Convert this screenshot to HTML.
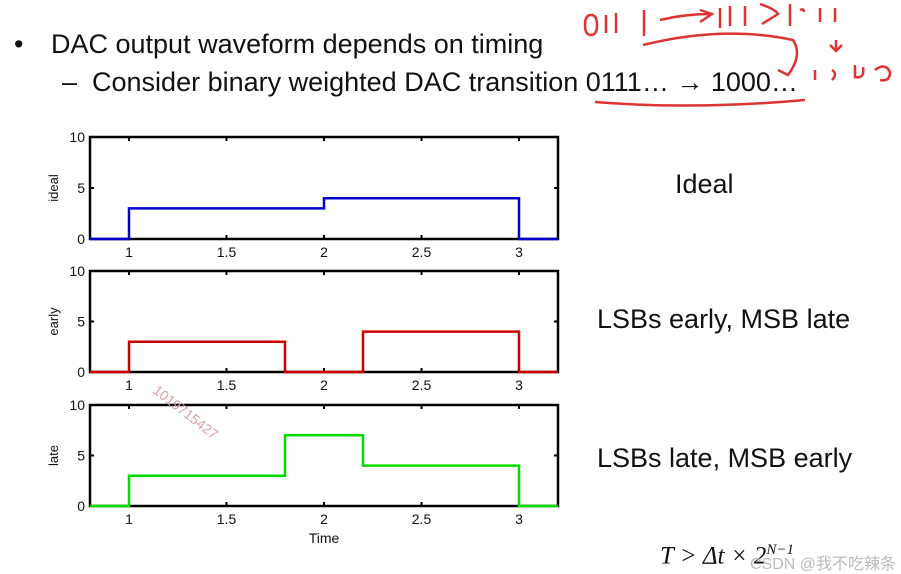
<!DOCTYPE html>
<html><head><meta charset="utf-8"><style>
body{margin:0;width:901px;height:573px;background:#fff;overflow:hidden;font-family:"Liberation Sans",sans-serif;position:relative}
.t{position:absolute;white-space:nowrap;color:#111}
</style></head><body>
<div class="t" style="left:14px;top:29px;font-size:27px">•</div>
<div class="t" style="left:51px;top:29px;font-size:27px">DAC output waveform depends on timing</div>
<div class="t" style="left:62px;top:67px;font-size:27px">–&nbsp;&nbsp;Consider binary weighted DAC transition 0111… <b>→</b> 1000…</div>
<div class="t" style="left:675px;top:169px;font-size:27px">Ideal</div>
<div class="t" style="left:597px;top:304px;font-size:27px">LSBs early, MSB late</div>
<div class="t" style="left:597px;top:443px;font-size:27px">LSBs late, MSB early</div>
<div class="t" style="left:660px;top:542px;font-size:25px;font-family:'Liberation Serif',serif;font-style:italic">T &gt; Δt × 2<sup style="font-size:15px">N−1</sup></div>
<div class="t" style="left:750px;top:550px;font-size:16px;color:#bbb;font-family:'Liberation Sans','Noto Sans CJK SC',sans-serif">CSDN @我不吃辣条</div>
<svg id="annot" width="901" height="573" style="position:absolute;left:0;top:0" fill="none" stroke="#d33" stroke-width="2.5">
<path d="M585 25 q0 -10 6 -10 q6 0 6 10 q0 10 -6 10 q-6 0 -6 -10"/>
<path d="M606 15 v18 M616 13 v20 M644 10 v26"/>
<path d="M660 20 q25 -6 50 -6 M700 10 l12 4 l-12 8"/>
<path d="M720 8 v20 M730 6 v20 M745 6 v20 M760 4 q15 5 18 10 l-16 10"/>
<path d="M790 4 v22 M800 10 q4 -2 4 2 M820 8 v14 M835 8 v14"/>
<path d="M643 45 q80 -20 150 -5 q10 15 -5 35 l-10 -5"/>
<path d="M836 40 v10 M830 45 l6 6 l6 -6"/>
<path d="M815 70 v10 M832 70 q6 4 0 10 M855 65 v12 q10 2 8 -10 M875 70 q10 -8 15 2 q0 10 -10 8"/>
<path d="M595 102 q100 8 210 -2"/>
</svg>
<svg id="chart" width="901" height="573" style="position:absolute;left:0;top:0"></svg>
<script>
const times=[0.8,1,1.8,2,2.2,3,3.2];
const idealVals=[0,3,3,4,4,0,0];
const earlyVals=[0,3,0,0,4,0,0];
const lateVals=[0,3,7,7,4,0,0];
const xTicks=[1,1.5,2,2.5,3];
const yTicks=[0,5,10];
const panels=[
 {name:'ideal',vals:idealVals,color:'#0000cc',top:137,bottom:239},
 {name:'early',vals:earlyVals,color:'#cc0000',top:271,bottom:372},
 {name:'late',vals:lateVals,color:'#00dd00',top:405,bottom:506}];
const L=90,R=558,x0=0.8,x1=3.2;
const svg=document.getElementById('chart');
const NS='http://www.w3.org/2000/svg';
const X=v=>L+(v-x0)/(x1-x0)*(R-L);
function mk(t,a,p){const e=document.createElementNS(NS,t);for(const k in a)e.setAttribute(k,a[k]);(p||svg).appendChild(e);return e;}
panels.forEach((p,pi)=>{
 const Y=v=>p.bottom-v/10*(p.bottom-p.top);
 const g=mk('g',{});
 
 
 const fr=mk('rect',{x:L,y:p.top,width:R-L,height:p.bottom-p.top,fill:'none',stroke:'#000','stroke-width':2.5},g);
 
 
 xTicks.forEach(t=>{
  mk('line',{x1:X(t),x2:X(t),y1:p.bottom,y2:p.bottom-4,stroke:'#000','stroke-width':2},g);
  mk('line',{x1:X(t),x2:X(t),y1:p.top,y2:p.top+4,stroke:'#000','stroke-width':2},g);
  const tx=mk('text',{x:X(t),y:p.bottom+18,'font-size':14,'text-anchor':'middle',fill:'#111'},g);
  tx.textContent=String(t);
  
  
 });
 yTicks.forEach(t=>{
  mk('line',{x1:L,x2:L+4,y1:Y(t),y2:Y(t),stroke:'#000','stroke-width':2},g);
  mk('line',{x1:R,x2:R-4,y1:Y(t),y2:Y(t),stroke:'#000','stroke-width':2},g);
  const tx=mk('text',{x:L-5,y:Y(t)+5,'font-size':14,'text-anchor':'end',fill:'#111'},g);
  tx.textContent=String(t);
  
  
 });
 const yl=mk('text',{transform:`translate(58,${(p.top+p.bottom)/2}) rotate(-90)`,'font-size':13,'text-anchor':'middle',fill:'#111'},g);
 yl.textContent=p.name;
 
 
 let d='';
 for(let i=0;i<times.length;i++){
  if(i==0)d+=`M${X(times[0])} ${Y(p.vals[0])}`;
  else d+=` L${X(times[i])} ${Y(p.vals[i-1])} L${X(times[i])} ${Y(p.vals[i])}`;
 }
 const ln=mk('path',{d:d,fill:'none',stroke:p.color,'stroke-width':2.5},g);
 
 
});
const xt=mk('text',{x:X(2),y:543,'font-size':14,'text-anchor':'middle',fill:'#111'});
xt.textContent='Time';


const wm=mk('text',{x:152,y:392,'font-size':14,fill:'#d9a0a8',transform:'rotate(38 152 392)'});
wm.textContent='1019715427';


</script>
</body></html>
